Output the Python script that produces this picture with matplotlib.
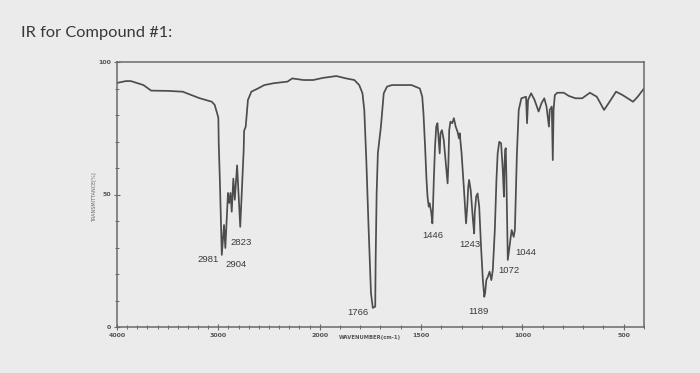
import numpy as np
import matplotlib
matplotlib.use("Agg")
import matplotlib.pyplot as plt

# Spectrum (wavenumber in cm-1, %T)
wavenumber = [4000, 3912, 3863, 3739, 3663, 3498, 3352, 3190, 3064, 3036, 3000, 2996, 2984,
              2966, 2944, 2931, 2905, 2893, 2880, 2868, 2852, 2838, 2815, 2784, 2750, 2746,
              2730, 2708, 2674, 2610, 2546, 2452, 2318, 2271, 2160, 2064, 1984, 1918, 1869,
              1829, 1805, 1789, 1780, 1770, 1759, 1747, 1738, 1726, 1724, 1719, 1713, 1698,
              1691, 1684, 1668, 1644, 1612, 1547, 1506, 1494, 1488, 1480, 1473, 1468, 1462,
              1458, 1450, 1444, 1441, 1437, 1431, 1425, 1419, 1412, 1408, 1404, 1397, 1388,
              1376, 1369, 1365, 1361, 1355, 1346, 1338, 1329, 1320, 1313, 1309, 1300, 1288,
              1278, 1272, 1267, 1263, 1255, 1244, 1238, 1235, 1228, 1221, 1213, 1204, 1195,
              1188, 1184, 1178, 1170, 1162, 1153, 1146, 1136, 1128, 1122, 1114, 1105, 1097,
              1091, 1088, 1085, 1082, 1079, 1072, 1053, 1043, 1037, 1027, 1018, 1005, 982,
              977, 972, 957, 940, 920, 906, 892, 881, 869, 865, 855, 850, 846, 840, 828, 796,
              771, 738, 705, 667, 633, 597, 575, 538, 505, 454, 431, 400]
transmittance = [92.1, 92.8, 92.8, 91.3, 89.2, 89.1, 88.8, 86.4, 85.0, 83.8, 79.0, 69.0, 54.0,
                 27.2, 38.5, 29.8, 50.6, 46.8, 50.6, 43.5, 56.0, 48.0, 61.0, 37.8, 66.8, 74.0,
                 75.6, 85.7, 88.8, 90.0, 91.3, 92.0, 92.6, 93.8, 93.2, 93.2, 94.0, 94.7, 93.8,
                 93.2, 91.3, 88.2, 81.9, 63.0, 37.9, 12.8, 7.2, 7.7, 25.0, 50.6, 65.6, 75.6,
                 81.9, 88.2, 90.7, 91.3, 91.3, 91.3, 90.0, 86.9, 80.6, 68.0, 55.5, 49.2, 45.4,
                 46.7, 43.5, 39.1, 45.4, 55.5, 68.0, 75.6, 76.9, 69.3, 65.5, 73.1, 74.3, 70.6,
                 60.5, 54.2, 61.8, 74.3, 77.5, 76.9, 78.8, 75.6, 73.7, 71.2, 73.1, 65.5, 51.7,
                 39.1, 45.4, 52.9, 55.5, 51.7, 40.4, 35.3, 43.0, 49.2, 50.4, 45.4, 30.3, 17.7,
                 11.4, 12.7, 17.7, 19.0, 20.9, 17.7, 21.5, 36.6, 55.5, 65.5, 69.9, 69.3, 59.6,
                 49.2, 61.8, 66.8, 67.5, 56.7, 25.3, 36.6, 34.0, 36.6, 65.5, 81.9, 86.3, 86.9,
                 76.9, 85.7, 88.2, 85.7, 81.3, 84.4, 86.3, 83.2, 75.6, 81.9, 83.2, 63.0, 82.0,
                 87.5, 88.4, 88.4, 87.2, 86.3, 86.3, 88.4, 86.9, 81.9, 84.4, 88.8, 87.5, 85.0,
                 86.9, 90.0]

# Peak labels and where their text sits (wavenumber, %T)
peak_labels = ["2981", "2904", "2823", "1766", "1446", "1243", "1189", "1072", "1044"]
label_wn = [3105, 2822, 2778, 1810, 1441, 1261, 1219, 1066, 982]
label_t = [25.5, 23.5, 32.0, 5.5, 34.5, 31.0, 6.0, 21.5, 28.0]

x_major = [4000, 3000, 2000, 1500, 1000, 500]
x_major_labels = ["4000", "3000", "2000", "1500", "1000", "500"]
y_major = [0, 50, 100]

BG = "#ebebeb"
INK = "#4d4d4d"


# IR charts squeeze the 4000-2000 region to half scale
def forward(wn):
    wn = np.asarray(wn, dtype=float)
    return np.where(wn > 2000, 2000 + (wn - 2000) / 2.0, wn)


def inverse(v):
    v = np.asarray(v, dtype=float)
    return np.where(v > 2000, 2000 + (v - 2000) * 2.0, v)


def main():
    fig = plt.figure(figsize=(7.0, 3.73), dpi=100, facecolor=BG)
    ax = fig.add_axes([117 / 700, 46 / 373, 527 / 700, 265 / 373])
    ax.set_facecolor(BG)

    ax.set_xscale("function", functions=(forward, inverse))
    ax.plot(wavenumber, transmittance, color=INK, lw=1.25)
    ax.set_xlim(4000, 400)
    ax.set_ylim(0, 100)

    for sp in ax.spines.values():
        sp.set_color("#6a6a6a")
        sp.set_linewidth(1.1)

    ax.set_xticks(x_major)
    ax.set_xticklabels(x_major_labels)
    ax.set_xticks(np.arange(400, 4001, 100), minor=True)
    ax.set_yticks(y_major)
    ax.set_yticks(np.arange(0, 101, 10), minor=True)
    ax.tick_params(which="major", direction="inout", length=4, width=0.8, color="#6a6a6a",
                   labelsize=4.5, labelcolor="#555555", pad=2)
    ax.tick_params(which="minor", direction="inout", length=2.5, width=0.7, color="#6a6a6a")
    for lab in ax.get_xticklabels() + ax.get_yticklabels():
        lab.set_fontweight("bold")

    ax.set_xlabel("WAVENUMBER(cm-1)", fontsize=3.8, color="#555555", fontweight="bold")
    ax.xaxis.set_label_coords((370 - 117) / 527, -0.03)
    ax.set_ylabel("TRANSMITTANCE[%]", fontsize=3.5, color="#666666")
    ax.yaxis.set_label_coords(-0.04, 0.49)

    for txt, wn, t in zip(peak_labels, label_wn, label_t):
        ax.text(wn, t, txt, fontsize=6.8, family="Liberation Sans", color="#3a3a3a",
                ha="center", va="center")

    fig.text(21 / 700, 1 - 33 / 373, "IR for Compound #1:", fontsize=11.8, family="Lato",
             color="#383838", ha="left", va="center")

    fig.savefig("out.png", dpi=100, facecolor=BG)


if __name__ == "__main__":
    main()
